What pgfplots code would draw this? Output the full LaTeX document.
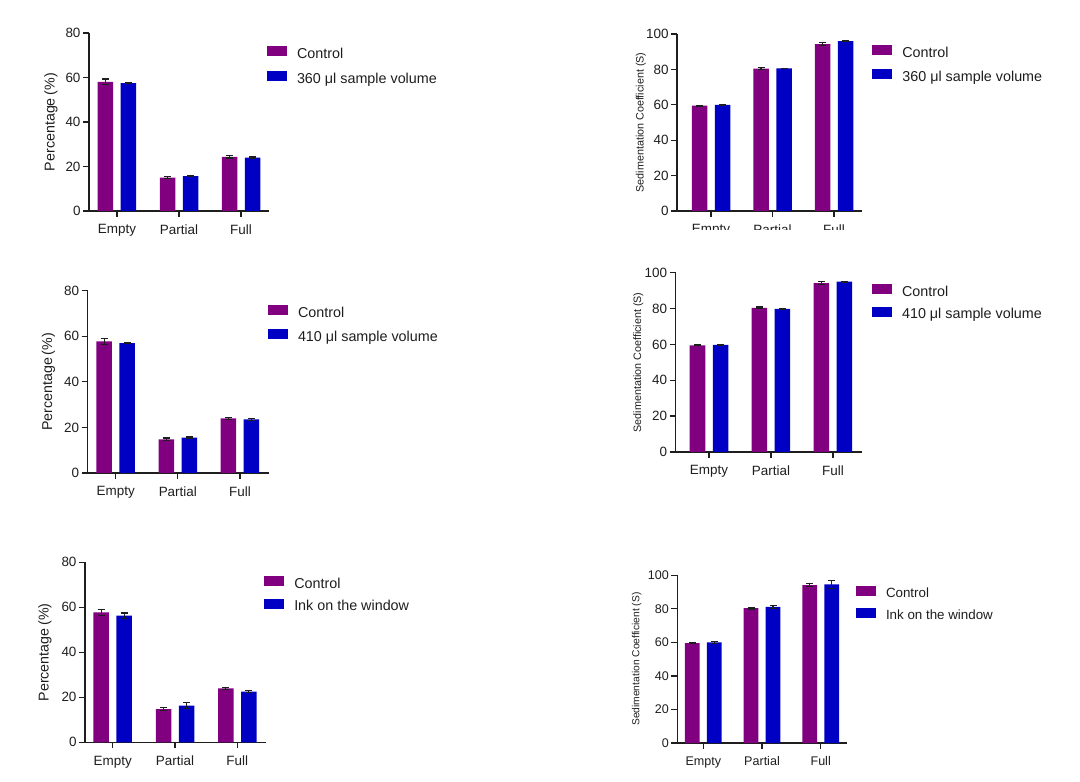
\documentclass[border=0pt]{standalone}
\usepackage{fontspec}
\setmainfont{Liberation Sans}
\usepackage{pgfplots}
\usepackage{pgfplotstable}
\pgfplotsset{compat=1.18}

\definecolor{ctrl}{RGB}{128,0,128}
\definecolor{test}{RGB}{0,0,196}
\definecolor{ink}{RGB}{30,30,30}

% columns: category, control mean, control sd, test mean, test sd
\pgfplotstableread{
x c ce s se
0 58.0 1.3 57.5 0.2
1 15.0 0.5 15.7 0.1
2 24.3 0.5 24.0 0.3
}\tPctA
\pgfplotstableread{
x c ce s se
0 59.5 0.3 60.0 0.3
1 80.4 0.5 80.6 0.1
2 94.3 1.0 95.9 0.1
}\tSedA
\pgfplotstableread{
x c ce s se
0 57.8 1.3 57.0 0.3
1 14.8 0.6 15.5 0.3
2 24.0 0.5 23.5 0.3
}\tPctB
\pgfplotstableread{
x c ce s se
0 59.5 0.3 59.8 0.3
1 80.4 0.5 79.8 0.1
2 94.2 1.0 95.0 0.3
}\tSedB
\pgfplotstableread{
x c ce s se
0 57.8 1.3 56.3 1.2
1 14.8 0.6 16.3 1.4
2 24.0 0.5 22.5 0.5
}\tPctC
\pgfplotstableread{
x c ce s se
0 59.5 0.3 60.0 0.5
1 80.4 0.5 81.1 1.0
2 94.2 1.0 94.6 2.3
}\tSedC

\pgfplotsset{
  panel/.style={
    scale only axis,
    anchor=south west,
    axis lines=left,
    axis line style={-, line width=1.3bp, ink},
    tick style={line width=1.3bp, ink},
    major tick length=6bp,
    tick align=outside,
    ymin=0,
    xtick={0,1,2},
    xticklabels={Empty,Partial,Full},
    ybar,
    bar width=15.5bp,
    /pgf/number format/assume math mode=true,
    ticklabel style={font=\fontsize{13.5}{15}\selectfont, text=ink},
    xticklabel style={yshift=-4bp},
    yticklabel style={xshift=1bp},
    label style={text=ink},
    legend cell align=left,
    legend image code/.code={\fill[##1] (0bp,-2bp) rectangle (20bp,8bp);},
    legend style={draw=none, fill=none, inner sep=0pt, outer sep=0pt,
      anchor=north west, column sep=10bp,
      nodes={inner sep=0pt, text height=11bp, text depth=3bp,
        font=\fontsize{14.4}{16}\selectfont, text=ink}},
    clip=false,
  },
  pct/.style={panel, ymax=80, ytick={0,20,...,80},
    ylabel={Percentage\hspace{3bp}(\%)},
    ylabel style={font=\fontsize{14.3}{16}\selectfont}},
  sed/.style={panel, ymax=100, ytick={0,20,...,100},
    ylabel={Sedimentation Coefficient (S)},
    ylabel style={font=\fontsize{10.8}{12}\selectfont}},
  ctrlbar/.style={fill=ctrl, draw=none, bar shift=-#1,
    error bars/.cd, y dir=both, y explicit,
    error bar style={draw=ink, line width=1.2bp},
    error mark options={draw=ink, line width=1.2bp, mark size=3.5bp, rotate=90}},
  testbar/.style={fill=test, draw=none, bar shift=#1,
    error bars/.cd, y dir=both, y explicit,
    error bar style={draw=ink, line width=1.2bp},
    error mark options={draw=ink, line width=1.2bp, mark size=3.5bp, rotate=90}},
}

\begin{document}
\begin{tikzpicture}
\useasboundingbox (0bp,0bp) rectangle (1080bp,782bp);

% top left
\begin{axis}[pct, at={(89bp,571bp)}, width=180bp, height=178bp,
  xmin=-0.45, xmax=2.45,
  ylabel style={at={(axis description cs:-0.211,0.5)}, anchor=center},
  legend style={at={(axis description cs:0.989,0.925)}, row sep=10bp}]
\addplot[ctrlbar=11.5bp] table[x=x, y=c, y error=ce] {\tPctA};
\addplot[testbar=11.5bp] table[x=x, y=s, y error=se] {\tPctA};
\legend{Control, 360 μl sample volume}
\end{axis}

% top right, tick labels trimmed at the lower edge
\begin{scope}
\clip (600bp,552.5bp) rectangle (1080bp,782bp);
\begin{axis}[sed, at={(677bp,571bp)}, width=185bp, height=177bp,
  xmin=-0.553, xmax=2.455,
  ylabel style={at={(axis description cs:-0.196,0.5)}, anchor=center},
  legend style={at={(axis description cs:1.056,0.936)}, row sep=9bp}]
\addplot[ctrlbar=11.5bp] table[x=x, y=c, y error=ce] {\tSedA};
\addplot[testbar=11.5bp] table[x=x, y=s, y error=se] {\tSedA};
\legend{Control, 360 μl sample volume}
\end{axis}
\end{scope}

% middle left
\begin{axis}[pct, at={(87.7bp,309bp)}, width=181.3bp, height=182.3bp,
  xmin=-0.45, xmax=2.467,
  ylabel style={at={(axis description cs:-0.217,0.5)}, anchor=center},
  legend style={at={(axis description cs:0.9945,0.919)}, row sep=8.6bp}]
\addplot[ctrlbar=11.5bp] table[x=x, y=c, y error=ce] {\tPctB};
\addplot[testbar=11.5bp] table[x=x, y=s, y error=se] {\tPctB};
\legend{Control, 410 μl sample volume}
\end{axis}

% middle right
\begin{axis}[sed, at={(675.7bp,330bp)}, width=186.3bp, height=179.3bp,
  xmin=-0.537, xmax=2.468,
  ylabel style={at={(axis description cs:-0.201,0.5)}, anchor=center},
  legend style={at={(axis description cs:1.054,0.935)}, row sep=7.6bp}]
\addplot[ctrlbar=11.5bp] table[x=x, y=c, y error=ce] {\tSedB};
\addplot[testbar=11.5bp] table[x=x, y=s, y error=se] {\tSedB};
\legend{Control, 410 μl sample volume}
\end{axis}

% bottom left
\begin{axis}[pct, at={(85bp,39.7bp)}, width=180.7bp, height=180bp,
  xmin=-0.445, xmax=2.456,
  ylabel style={at={(axis description cs:-0.221,0.5)}, anchor=center},
  legend style={at={(axis description cs:0.992,0.923)}, row sep=7.8bp}]
\addplot[ctrlbar=11.5bp] table[x=x, y=c, y error=ce] {\tPctC};
\addplot[testbar=11.5bp] table[x=x, y=s, y error=se] {\tPctC};
\legend{Control, Ink on the window}
\end{axis}

% bottom right
\begin{axis}[sed, at={(677.3bp,39bp)}, width=169.7bp, height=167.7bp,
  xmin=-0.443, xmax=2.448, bar width=14.7bp,
  ticklabel style={font=\fontsize{12.6}{14}\selectfont},
  ylabel style={at={(axis description cs:-0.239,0.5)}, anchor=center,
    font=\fontsize{10.3}{12}\selectfont},
  legend style={at={(axis description cs:1.053,0.935)}, row sep=7bp,
    nodes={text height=10.5bp, text depth=3bp, font=\fontsize{13.4}{15}\selectfont}}]
\addplot[ctrlbar=11bp] table[x=x, y=c, y error=ce] {\tSedC};
\addplot[testbar=11bp] table[x=x, y=s, y error=se] {\tSedC};
\legend{Control, Ink on the window}
\end{axis}
\end{tikzpicture}
\end{document}
